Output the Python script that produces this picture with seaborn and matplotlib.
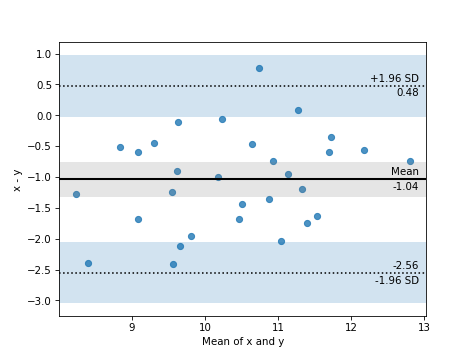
import matplotlib
matplotlib.use("Agg")
import matplotlib.pyplot as plt
import matplotlib.transforms as transforms
import seaborn as sns

# mean of x and y / difference x - y
means = [8.23, 8.40, 8.84, 9.08, 9.30, 9.63, 9.62, 9.08, 9.54, 9.66,
         9.56, 9.80, 10.18, 10.23, 10.64, 10.74, 10.93, 11.14, 11.27, 10.50,
         10.47, 10.87, 11.04, 11.33, 11.39, 11.53, 11.73, 11.69, 12.18, 12.80]
diffs = [-1.27, -2.39, -0.51, -0.60, -0.45, -0.11, -0.90, -1.68, -1.25, -2.11,
         -2.41, -1.95, -1.00, -0.06, -0.47, 0.76, -0.74, -0.95, 0.08, -1.44,
         -1.68, -1.36, -2.04, -1.19, -1.75, -1.63, -0.35, -0.60, -0.56, -0.74]

mean_diff = -1.04
loa = [-2.56, 0.48]
mean_ci = [-1.32, -0.76]
loa_lo_ci = [-3.05, -2.05]
loa_hi_ci = [-0.02, 0.98]

fig, ax = plt.subplots(figsize=(6.4, 4.8), dpi=74)

sns.scatterplot(x=means, y=diffs, color="tab:blue", alpha=0.8, s=36,
                edgecolor="tab:blue", linewidth=1, ax=ax)

ax.axhline(mean_diff, color="k", linestyle="-", lw=2)
ax.axhline(loa[1], color="k", linestyle=":", lw=1.5)
ax.axhline(loa[0], color="k", linestyle=":", lw=1.5)

ax.axhspan(mean_ci[0], mean_ci[1], facecolor="grey", alpha=0.2)
ax.axhspan(loa_hi_ci[0], loa_hi_ci[1], facecolor="tab:blue", alpha=0.2)
ax.axhspan(loa_lo_ci[0], loa_lo_ci[1], facecolor="tab:blue", alpha=0.2)

trans = transforms.blended_transform_factory(ax.transAxes, ax.transData)
offset = ((loa[1] - mean_diff) * 2 / 100) * 1.2
ax.text(0.98, mean_diff + offset, "Mean", ha="right", va="bottom", transform=trans)
ax.text(0.98, mean_diff - offset, "%.2f" % mean_diff, ha="right", va="top", transform=trans)
ax.text(0.98, loa[1] + offset, "+1.96 SD", ha="right", va="bottom", transform=trans)
ax.text(0.98, loa[1] - offset, "%.2f" % loa[1], ha="right", va="top", transform=trans)
ax.text(0.98, loa[0] - offset, "-1.96 SD", ha="right", va="top", transform=trans)
ax.text(0.98, loa[0] + offset, "%.2f" % loa[0], ha="right", va="bottom", transform=trans)

ax.set_xlabel("Mean of x and y")
ax.set_ylabel("x - y")

fig.savefig("out.png", dpi=74)
